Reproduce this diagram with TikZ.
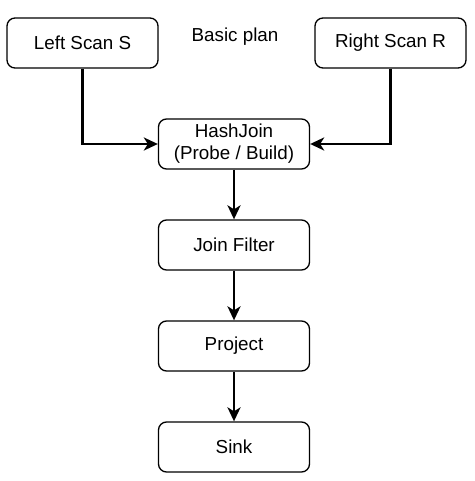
\documentclass[tikz,border=0pt]{standalone}
\usepackage{fontspec}
\setmainfont{Liberation Sans}
\usetikzlibrary{arrows.meta}
\begin{document}
\begin{tikzpicture}[x=1pt,y=-1pt,
  box/.style={draw=black, line width=1.3pt, rounded corners=8pt, minimum width=151pt, minimum height=50pt, inner sep=0pt, align=center, font=\fontsize{18.8}{22}\selectfont, fill=white},
  conn/.style={line width=2.6pt, -{Stealth[length=14pt,width=13pt,inset=4pt]}},
  lbl/.style={font=\fontsize{18.8}{22}\selectfont}]
\useasboundingbox (0,0) rectangle (474,481);
\node[box] (left) at (82.5,43) {Left Scan S};
\node[box] (right) at (390.5,43) {Right Scan R};
\node[lbl] (title) at (235,37) {Basic plan};
\node[box] (hash) at (234,144) {HashJoin\\(Probe / Build)};
\node[box] (filter) at (234,245) {Join Filter};
\node[box] (project) at (234,346) {Project};
\node[box] (sink) at (234,447) {Sink};
\draw[conn] (left.south) |- (hash.west);
\draw[conn] (right.south) |- (hash.east);
\draw[conn] (hash) -- (filter);
\draw[conn] (filter) -- (project);
\draw[conn] (project) -- (sink);
\end{tikzpicture}
\end{document}
